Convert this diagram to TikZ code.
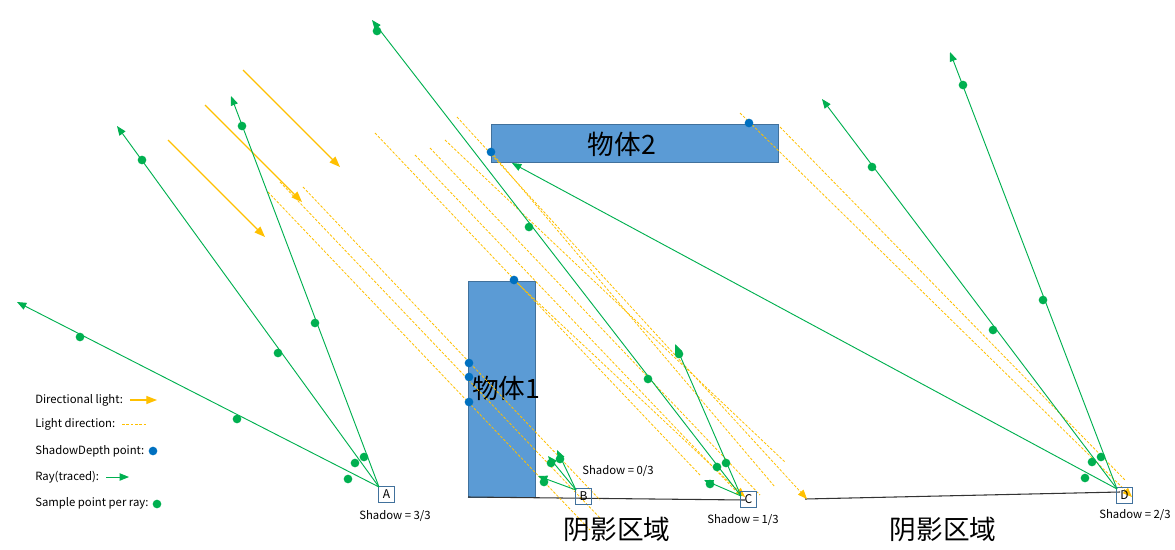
\documentclass[tikz,border=0pt]{standalone}
\usepackage{fontspec}
\setmainfont{Noto Sans CJK SC}
\usetikzlibrary{arrows.meta}
\definecolor{grn}{HTML}{00B050}
\definecolor{yel}{HTML}{FFC000}
\definecolor{blu}{HTML}{0070C0}
\definecolor{boxf}{HTML}{5B9BD5}
\definecolor{boxd}{HTML}{41719C}
\begin{document}
\begin{tikzpicture}[x=0.75pt,y=-0.75pt,
 ray/.style={grn,line width=0.7pt,-{Triangle[length=7pt,width=5.5pt]}},
 sp/.style={circle,fill=grn,inner sep=0pt,minimum size=6.5pt},
 sd/.style={circle,fill=blu,inner sep=0pt,minimum size=6.5pt},
 ldir/.style={yel,line width=0.6pt,dash pattern=on 2pt off 1.2pt},
 dl/.style={yel,line width=0.9pt,-{Triangle[length=8pt,width=6pt]}},
 obj/.style={draw=boxd,fill=boxf,line width=0.6pt,inner sep=0pt},
 pt/.style={draw=boxd,line width=0.7pt,minimum size=12pt,inner sep=0pt,font=\fontsize{9}{9}\selectfont},
 lab/.style={font=\fontsize{8.5}{10}\selectfont,inner sep=0pt},
 big/.style={font=\fontsize{20}{22}\selectfont,inner sep=0pt}]
\useasboundingbox (0,0) rectangle (1175,550);
% objects
\node[obj,minimum width=50.25pt,minimum height=162pt] (o1) at (501.5,389) {};
\node[obj,minimum width=215.25pt,minimum height=28.5pt] (o2) at (634.5,143) {};
\node[big,anchor=west] at (472,388) {物体1};
\node[big] at (622,144) {物体2};
% ground
\coordinate (g1) at (468,497); \coordinate (g2) at (745,500);
\coordinate (g3) at (805,499); \coordinate (g4) at (1120,492);
\draw[black!80,line width=0.8pt] (g1)--(g2); \draw[black!80,line width=0.8pt] (g3)--(g4);
% light direction dashed
\foreach \a/\b in {268/192/590/530,280/182/600/518,303/187/600/500,375/133/700/475,415/155/735/490,430/148/760/495,445/140/785/462,491/152/775/487,780/127/1125/480}{}
\draw[ldir] (268,192)--(590,530);
\draw[ldir] (280,182)--(600,518);
\draw[ldir] (303,187)--(600,500);
\draw[ldir] (375,133)--(700,475);
\draw[ldir] (415,155)--(735,490);
\draw[ldir] (430,148)--(760,495);
\draw[ldir] (445,140)--(785,462);
\draw[ldir] (491,152)--(775,487);
\draw[ldir] (780,127)--(1125,480);
\draw[ldir,-{Triangle[length=7pt,width=5.5pt]}] (457,117)--(807,499);
\draw[ldir,-{Triangle[length=7pt,width=5.5pt]}] (514,280)--(745,497);
\draw[ldir,-{Triangle[length=7pt,width=5.5pt]}] (740,113)--(1132,497);
% directional lights
\draw[dl] (243,70)--(340,167);
\draw[dl] (205,105)--(302,202);
\draw[dl] (168,140)--(265,237);
% points
\node[pt] (A) at (386.5,494.5) {A};
\node[pt] (B) at (583.5,496.5) {B};
\node[pt] (C) at (748.5,499.5) {C};
\node[pt] (D) at (1124.5,495) {D};
\coordinate (Ao) at (379,487); \coordinate (Bo) at (576,490);
\coordinate (Co) at (741,496); \coordinate (Do) at (1117,489);
% rays A
\coordinate (a1) at (17,302); \coordinate (a2) at (117,126); \coordinate (a3) at (231,96);
\draw[ray] (Ao)--(a1); \draw[ray] (Ao)--(a2); \draw[ray] (Ao)--(a3);
\foreach \p in {(80,337),(237,419),(348,479),(142,160),(278,353),(355,463),(242,126),(315,323),(364,457)} \node[sp] at \p {};
% rays B
\coordinate (b1) at (538,476); \coordinate (b2) at (548,456); \coordinate (b3) at (557,450);
\draw[ray] (Bo)--(b1); \draw[ray] (Bo)--(b2); \draw[ray] (Bo)--(b3);
\foreach \p in {(544,482),(551,463),(560,459)} \node[sp] at \p {};
% rays C
\coordinate (c1) at (372,20); \coordinate (c2) at (675,344); \coordinate (c3) at (704,480);
\draw[ray] (Co)--(c1); \draw[ray] (Co)--(c2); \draw[ray] (Co)--(c3);
\foreach \p in {(377,31),(529,227),(648,379),(717,467),(679,354),(726,463),(710,484)} \node[sp] at \p {};
% rays D
\coordinate (d1) at (512,163); \coordinate (d2) at (822,99); \coordinate (d3) at (950,52);
\draw[ray] (Do)--(d1); \draw[ray] (Do)--(d2); \draw[ray] (Do)--(d3);
\foreach \p in {(1085,478),(872,167),(993,330),(1092,462),(963,85),(1043,300),(1101,457)} \node[sp] at \p {};
% shadow depth points
\foreach \p in {(491,152),(749,123),(514,280),(469,363),(469,377),(469,402)} \node[sd] at \p {};
% labels
\node[lab] at (395,516) {Shadow = 3/3};
\node[lab] at (618,471) {Shadow = 0/3};
\node[lab] at (743,520) {Shadow = 1/3};
\node[lab] at (1135,515) {Shadow = 2/3};
\node[big] at (617,529) {阴影区域};
\node[big] at (943,529) {阴影区域};
% legend
\node[lab,anchor=west] (l1) at (35,400) {Directional light:};
\node[lab,anchor=west] (l2) at (35,424) {Light direction:};
\node[lab,anchor=west] (l3) at (35,451) {ShadowDepth point:};
\node[lab,anchor=west] (l4) at (35,477) {Ray(traced):};
\node[lab,anchor=west] (l5) at (35,503) {Sample point per ray:};
\coordinate (e1) at (157,400); \coordinate (e2) at (146,424); \coordinate (e4) at (129,477);
\draw[dl] ([xshift=5pt]l1.east)--(e1);
\draw[ldir] ([xshift=5pt]l2.east)--(e2);
\node[sd] at (153,451) {};
\draw[ray] ([xshift=5pt]l4.east)--(e4);
\node[sp] at (157,504) {};
\end{tikzpicture}
\end{document}
